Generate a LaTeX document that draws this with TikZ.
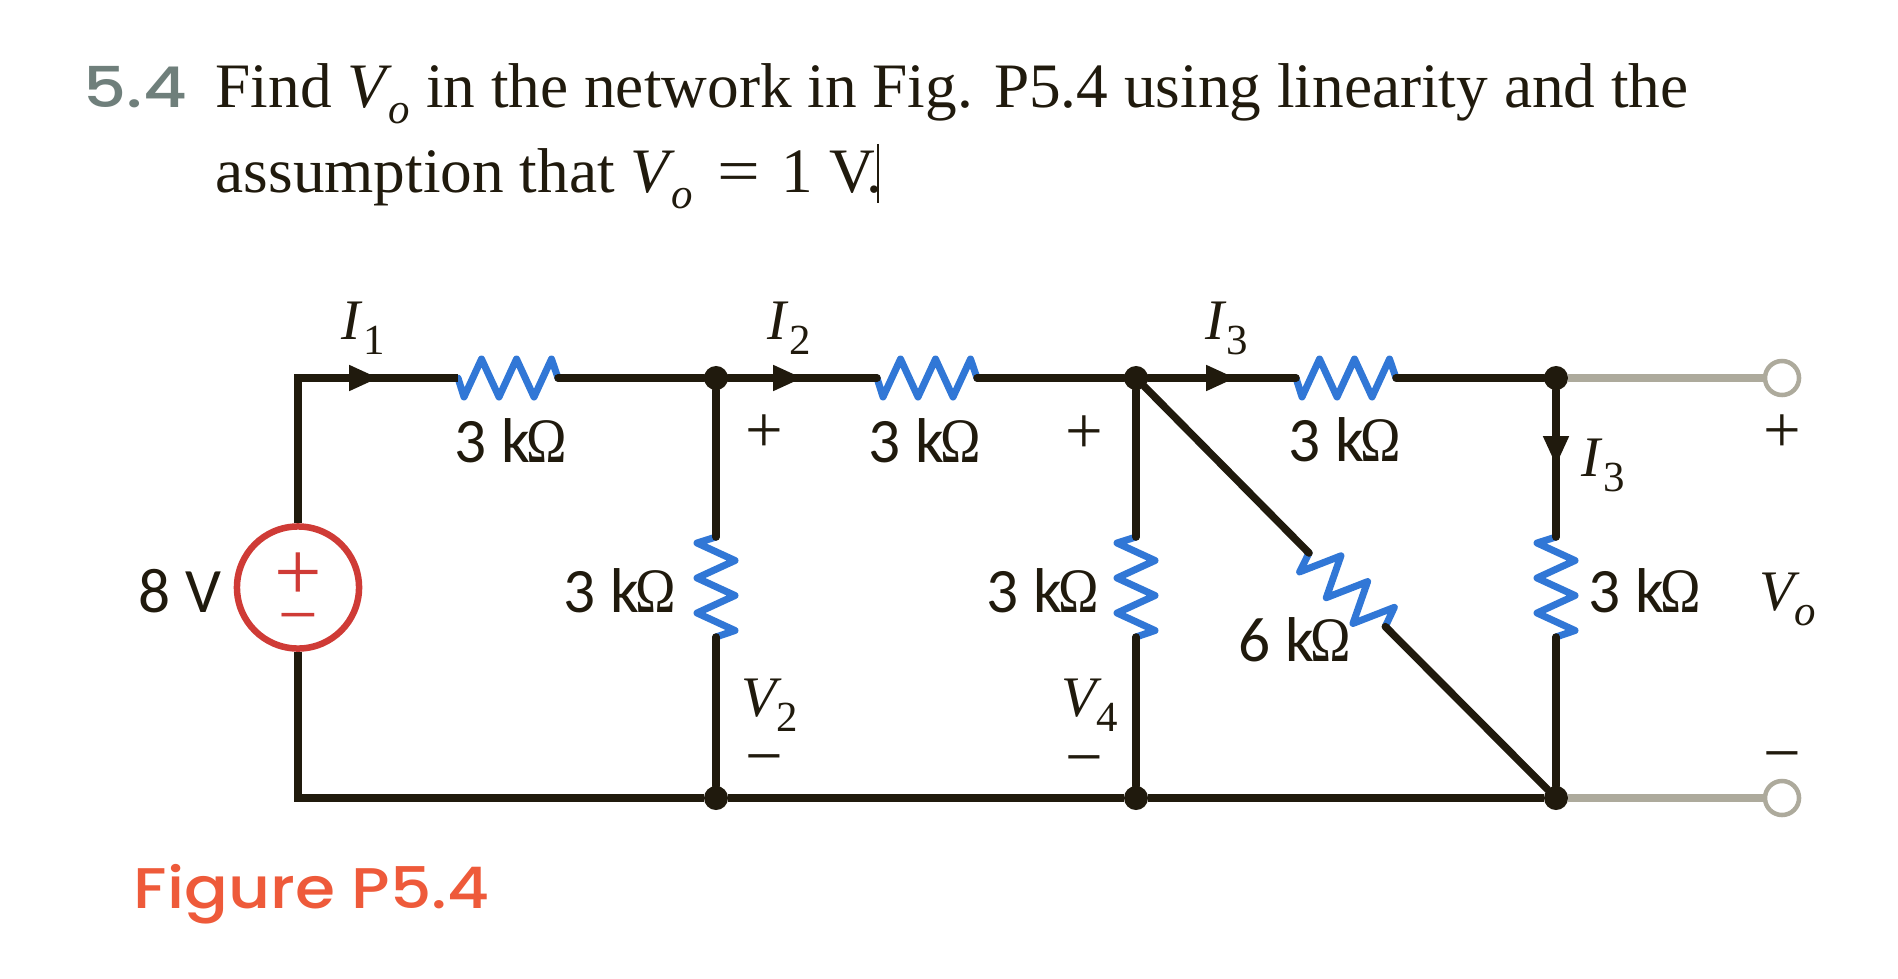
\documentclass[tikz,border=0pt]{standalone}
\usepackage{fontspec}
\setmainfont{Liberation Serif}
\newfontfamily\labfont{Carlito}
\newfontfamily\headfont{Poppins}[UprightFont=* Medium]
\usetikzlibrary{arrows.meta}
\definecolor{wirecol}{HTML}{201A0D}
\definecolor{resblue}{HTML}{3177D6}
\definecolor{srcred}{HTML}{CF3B36}
\definecolor{termgray}{HTML}{ADAA9C}
\definecolor{figorange}{HTML}{EE5A3A}
\definecolor{numgray}{HTML}{6F7F7B}
\newcommand{\lowsub}[1]{\raisebox{-1.5mm}{\fontsize{12.2pt}{14pt}\selectfont #1}}
\newcommand{\ohm}{k\kern-1pt\scalebox{.86}[1]{\fontspec{Liberation Serif}\char"03A9}}
\begin{document}
\begin{tikzpicture}[x=0.01cm,y=0.01cm,line join=miter,>={Triangle[length=8.5pt,width=6.8pt]}]
	\def\ytop{600}
	\def\ybot{180}
	\tikzset{
		wire/.style={draw=wirecol,line width=0.075cm},
		graywire/.style={draw=termgray,line width=0.08cm},
		zig/.style={draw=resblue,line width=0.07cm,line join=round,line cap=round},
		dot/.style={circle,fill=wirecol,inner sep=0pt,outer sep=0pt,minimum size=0.24cm},
		term/.style={circle,draw=termgray,fill=white,line width=0.045cm,inner sep=0pt,minimum size=0.34cm},
		res/.pic={\draw[zig] (0,0)--(6,-19)--(23.5,19)--(41,-19)--(58.5,19)--(76,-19)--(93.5,19)--(100,0);},
		txt/.style={anchor=base west,inner sep=0pt,text=wirecol,font=\fontsize{18pt}{20pt}\selectfont},
		lab/.style={anchor=base west,inner sep=0pt,text=wirecol,font=\fontsize{16.3pt}{20pt}\selectfont},
		val/.style={anchor=base,inner sep=0pt,text=wirecol,font=\labfont\fontsize{18pt}{20pt}\selectfont},
		sign/.style={inner sep=0pt,text=wirecol,font=\fontsize{19pt}{20pt}\selectfont},
	}
	\useasboundingbox (0,0) rectangle (1898,978);
	% problem text
	\node[anchor=base west,inner sep=0pt,text=numgray,font=\headfont\fontsize{16pt}{20pt}\selectfont,xscale=1.2] (pnum) at (83,870) {5.4};
	\node[txt] (line1) at (215,870) {Find \textit{V}\kern-1pt\lowsub{\textit{o}} in the network in Fig. P5.4 using linearity and the};
	\node[txt] (line2) at (215,785) {assumption that \textit{V}\kern-1pt\lowsub{\textit{o}}\kern2.4pt{} \scalebox{1.2}[1]{=}\kern1.5pt{} 1 V.};
	\coordinate (cur1) at (878,834);
	\coordinate (cur2) at (878,775);
	\draw[draw=wirecol,line width=0.02cm] (cur1) -- (cur2);
	% resistors
	\coordinate (r1a) at (458,\ytop); \coordinate (r1b) at (558,\ytop);
	\coordinate (r2a) at (877,\ytop); \coordinate (r2b) at (977,\ytop);
	\coordinate (r3a) at (1296,\ytop); \coordinate (r3b) at (1396,\ytop);
	\coordinate (r4a) at (716,441); \coordinate (r4b) at (716,341);
	\coordinate (r5a) at (1136,441); \coordinate (r5b) at (1136,341);
	\coordinate (r6a) at (1556,441); \coordinate (r6b) at (1556,341);
	\coordinate (r7a) at (1309,425); \coordinate (r7b) at (1385.3,351.4);
	\foreach \r in {r1a,r2a,r3a} \pic at (\r) {res};
	\foreach \r in {r4a,r5a,r6a} \pic[rotate=-90] at (\r) {res};
	\pic[rotate=-44,scale=1.06] at (r7a) {res};
	% nodes
	\node[dot] (n1) at (716,\ytop) {};
	\node[dot] (n2) at (1136,\ytop) {};
	\node[dot] (n3) at (1556,\ytop) {};
	\node[dot] (b1) at (716,\ybot) {};
	\node[dot] (b2) at (1136,\ybot) {};
	\node[dot] (b3) at (1556,\ybot) {};
	\node[term] (t1) at (1782,\ytop) {};
	\node[term] (t2) at (1782,\ybot) {};
	\node[circle,draw=srcred,line width=0.065cm,inner sep=0pt,minimum size=1.22cm] (vs) at (298,390.5) {};
	\coordinate (ctl) at (298,\ytop);
	\coordinate (cbl) at (298,\ybot);
	\coordinate (a1) at (379,\ytop);
	\coordinate (a2) at (803,\ytop);
	\coordinate (a3) at (1236,\ytop);
	\coordinate (a4) at (1556,512);
	% wires
	\draw[wire] (vs.north) -- (ctl) -- (r1a);
	\draw[wire,->] (ctl) -- (a1);
	\draw[wire,line cap=round] (r1b) -- (n1);
	\draw[wire,line cap=round] (n1) -- (r2a);
	\draw[wire,->] (n1) -- (a2);
	\draw[wire,line cap=round] (r2b) -- (n2);
	\draw[wire,line cap=round] (n2) -- (r3a);
	\draw[wire,->] (n2) -- (a3);
	\draw[wire,line cap=round] (r3b) -- (n3);
	\draw[wire,line cap=round] (n3) -- (r6a);
	\draw[wire,->] (n3) -- (a4);
	\draw[wire,line cap=round] (r6b) -- (b3);
	\draw[wire,line cap=round] (n1) -- (r4a);
	\draw[wire,line cap=round] (r4b) -- (b1);
	\draw[wire,line cap=round] (n2) -- (r5a);
	\draw[wire,line cap=round] (r5b) -- (b2);
	\draw[wire,line cap=round] (n2) -- (r7a);
	\draw[wire,line cap=round] (r7b) -- (b3);
	\draw[wire] (vs.south) -- (cbl) -- (b1);
	\draw[wire] (b1) -- (b2);
	\draw[wire] (b2) -- (b3);
	\draw[graywire] (n3) -- (t1);
	\draw[graywire] (b3) -- (t2);
	% source signs
	\node[inner sep=0pt,text=srcred,font=\fontsize{24pt}{24pt}\selectfont] (vsp) at (298,401) {+};
	\node[inner sep=0pt,text=srcred,font=\fontsize{20pt}{24pt}\selectfont] (vsm) at (298,352) {\char"2212};
	% labels
	\node[lab] (li1) at (341,639) {\textit{I}\lowsub{1}};
	\node[lab] (li2) at (767,639) {\textit{I}\lowsub{2}};
	\node[lab] (li3) at (1204.5,639) {\textit{I}\lowsub{3}};
	\node[lab] (li4) at (1581,501.5) {\textit{I}\lowsub{3}};
	\node[lab] (lv2) at (741,262) {\textit{V}\kern-1.5pt\lowsub{2}};
	\node[lab] (lv4) at (1061,261.5) {\textit{V}\kern-1.5pt\lowsub{4}};
	\node[lab] (lvo) at (1759,368) {\textit{V}\kern-1.5pt\lowsub{\textit{o}}};
	\node[val] (v1) at (511,516) {3 \ohm};
	\node[val] (v2) at (925,516) {3 \ohm};
	\node[val] (v3) at (1345,517) {3 \ohm};
	\node[val] (v4) at (620,366) {3 \ohm};
	\node[val] (v5) at (1043,366) {3 \ohm};
	\node[val] (v6) at (1645,366) {3 \ohm};
	\node[val] (v7) at (1295,317) {6 \ohm};
	\node[val] (v8) at (180,366) {8 V};
	\node[sign] (p2) at (764,544) {+};
	\node[sign] (p4) at (1084,543.5) {+};
	\node[sign] (po) at (1782,544) {+};
	\node[sign] (m2) at (764.5,211) {\char"2212};
	\node[sign] (m4) at (1084,210.5) {\char"2212};
	\node[sign] (mo) at (1782,214) {\char"2212};
	\node[anchor=base west,inner sep=0pt,text=figorange,font=\headfont\fontsize{16.3pt}{20pt}\selectfont,xscale=1.13] (figlab) at (133,70) {Figure P5.4};
\end{tikzpicture}
\end{document}
